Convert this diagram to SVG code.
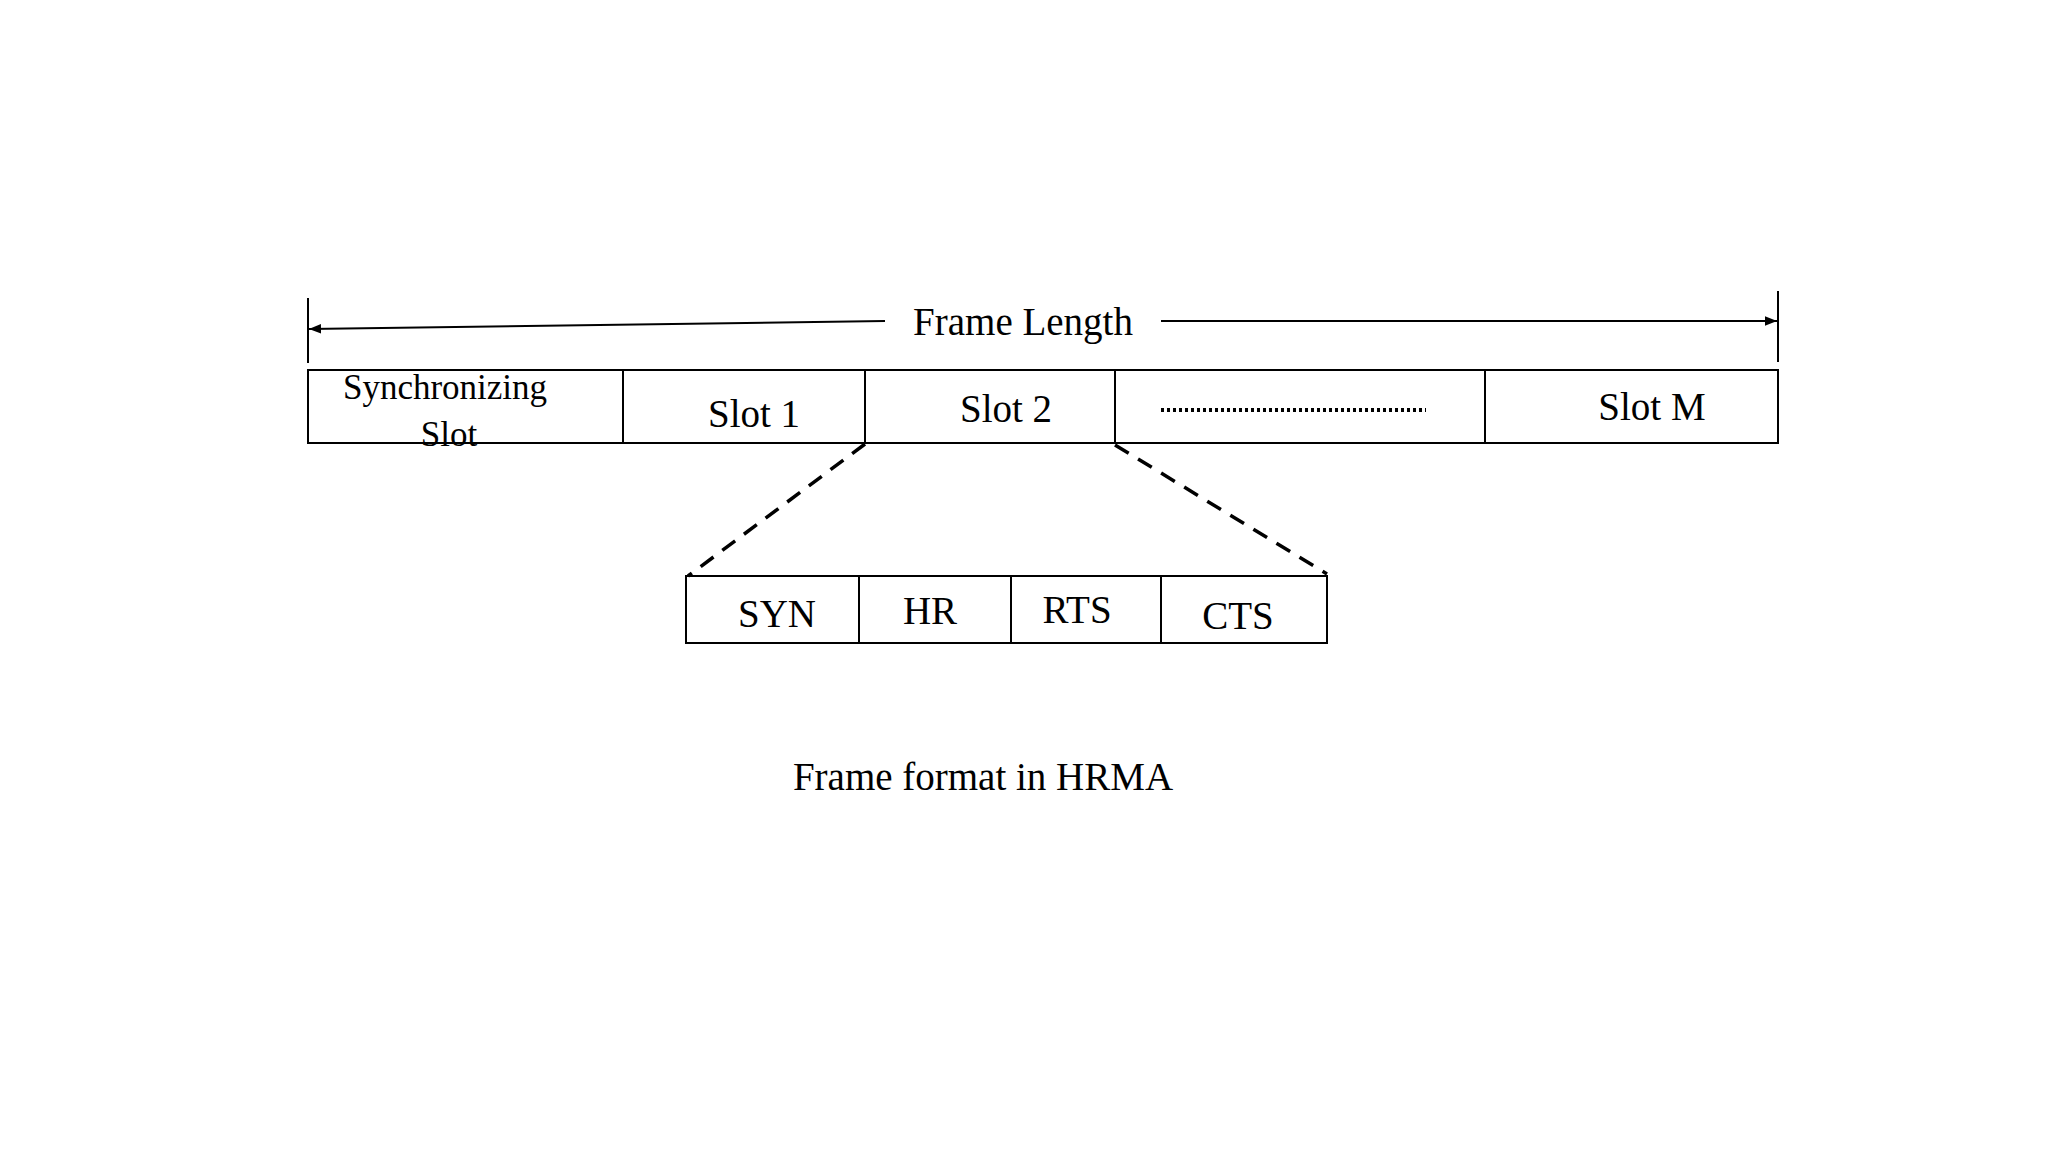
<svg xmlns="http://www.w3.org/2000/svg" width="2048" height="1152" viewBox="0 0 2048 1152">
<style>
text{font-family:"Liberation Serif","Times New Roman",serif;fill:#000;text-anchor:middle}
.box{fill:none;stroke:#000;stroke-width:2}
.ln{stroke:#000;stroke-width:2;fill:none}
.dash{stroke:#000;stroke-width:3.5;stroke-dasharray:16 11;fill:none}
</style>
<defs><marker id="ah" viewBox="0 0 10 10" refX="10" refY="5" markerWidth="6" markerHeight="6" orient="auto-start-reverse"><path d="M0,1 L10,5 L0,9 z" fill="#000"/></marker></defs>
<rect width="2048" height="1152" fill="#fff"/>
<g id="connectors">
<line class="ln" x1="308" y1="298" x2="308" y2="363"/>
<line class="ln" x1="1778" y1="291" x2="1778" y2="362"/>
<line class="ln" x1="885" y1="321" x2="309" y2="329" marker-end="url(#ah)"/>
<line class="ln" x1="1161" y1="321" x2="1777" y2="321" marker-end="url(#ah)"/>
<line class="dash" x1="865" y1="444" x2="688" y2="576"/>
<line class="dash" x1="1115" y1="445" x2="1327" y2="574"/>
</g>
<g id="frame-length"><text x="1023" y="335" font-size="39">Frame Length</text></g>
<g id="frame">
<rect class="box" x="308" y="370" width="1470" height="73"/>
<line class="ln" x1="623" y1="370" x2="623" y2="443"/>
<line class="ln" x1="865" y1="370" x2="865" y2="443"/>
<line class="ln" x1="1115" y1="370" x2="1115" y2="443"/>
<line class="ln" x1="1485" y1="370" x2="1485" y2="443"/>
</g>
<g id="sync"><text x="445" y="399" font-size="35">Synchronizing</text><text x="449" y="446" font-size="35">Slot</text></g>
<g id="slot1"><text x="754" y="427" font-size="39">Slot 1</text></g>
<g id="slot2"><text x="1006" y="422" font-size="39">Slot 2</text></g>
<g id="dots"><line x1="1161" y1="410" x2="1426" y2="410" stroke="#000" stroke-width="4" stroke-dasharray="3 3"/></g>
<g id="slotM"><text x="1652" y="420" font-size="39">Slot M</text></g>
<g id="subframe">
<rect class="box" x="686" y="576" width="641" height="67"/>
<line class="ln" x1="859" y1="576" x2="859" y2="643"/>
<line class="ln" x1="1011" y1="576" x2="1011" y2="643"/>
<line class="ln" x1="1161" y1="576" x2="1161" y2="643"/>
<text x="777" y="627" font-size="39">SYN</text>
<text x="930" y="624" font-size="39">HR</text>
<text x="1077" y="623" font-size="39">RTS</text>
<text x="1238" y="629" font-size="39">CTS</text>
</g>
<g id="caption"><text x="983" y="790" font-size="39">Frame format in HRMA</text></g>
</svg>
